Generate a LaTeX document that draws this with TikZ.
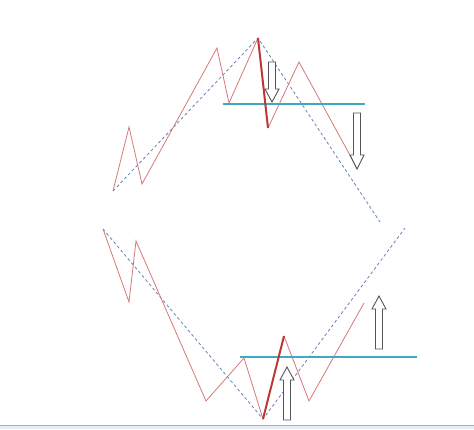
\documentclass[tikz,border=0pt]{standalone}
\definecolor{zigred}{RGB}{214,120,120}
\definecolor{legred}{RGB}{190,55,55}
\definecolor{trendblue}{RGB}{100,130,185}
\definecolor{levelcyan}{RGB}{60,170,195}
\definecolor{arrowgray}{RGB}{85,85,85}
\definecolor{bandline}{RGB}{150,180,220}
\definecolor{bandfill}{RGB}{226,236,250}
\begin{document}
\begin{tikzpicture}[x=1pt,y=-1pt,
    zig/.style={zigred,line width=0.8pt},
    leg/.style={legred,line width=2pt},
    trend/.style={trendblue,line width=0.8pt,dash pattern=on 3pt off 2.5pt},
    level/.style={levelcyan,line width=2.2pt},
    hollow/.style={draw=arrowgray,fill=white,line width=0.9pt}]
  \useasboundingbox (0,0) rectangle (474,429);
  % top swing points
  \path
    (113,191) coordinate (t0)
    (129,127) coordinate (t1)
    (142,184) coordinate (t2)
    (217,48) coordinate (t3)
    (229,103) coordinate (t4)
    (258,38) coordinate (t5)
    (268,128) coordinate (t6)
    (299,62) coordinate (t7)
    (357,168) coordinate (t8)
    (380,222) coordinate (t9);
  % bottom swing points
  \path
    (103,229) coordinate (b0)
    (129,302) coordinate (b1)
    (136,241) coordinate (b2)
    (206,401) coordinate (b3)
    (244,358) coordinate (b4)
    (263,419) coordinate (b5)
    (284,336) coordinate (b6)
    (309,401) coordinate (b7)
    (364,303) coordinate (b8)
    (405,228) coordinate (b9);
  \path
    (223,104) coordinate (tl0)
    (365,104) coordinate (tl1)
    (240,357) coordinate (bl0)
    (417,357) coordinate (bl1);
  % bottom band
  \fill[bandfill] (0,425) rectangle (474,429);
  \draw[bandline,line width=0.8pt] (0,425) -- (474,425);
  \begin{scope}
    \draw[trend] (t0) -- (t5) -- (t9);
    \draw[trend] (b0) -- (b5) -- (b9);
    \draw[zig] (t0) -- (t1) -- (t2) -- (t3) -- (t4) -- (t5);
    \draw[zig] (t6) -- (t7) -- (t8);
    \draw[zig] (b0) -- (b1) -- (b2) -- (b3) -- (b4) -- (b5);
    \draw[zig] (b6) -- (b7) -- (b8);
    \draw[level] (tl0) -- (tl1);
    \draw[level] (bl0) -- (bl1);
    \draw[leg] (t5) -- (t6);
    \draw[leg] (b5) -- (b6);
  \end{scope}
  % hollow arrows: x / tail / head base / tip
  \foreach \x/\t/\b/\p in {272/62/89/102, 357/113/155/169, 287/420/380/367, 379/349/309/296}
    \draw[hollow] (\x-3.5,\t) -- (\x+3.5,\t) -- (\x+3.5,\b) -- (\x+7,\b)
      -- (\x,\p) -- (\x-7,\b) -- (\x-3.5,\b) -- cycle;
\end{tikzpicture}
\end{document}
